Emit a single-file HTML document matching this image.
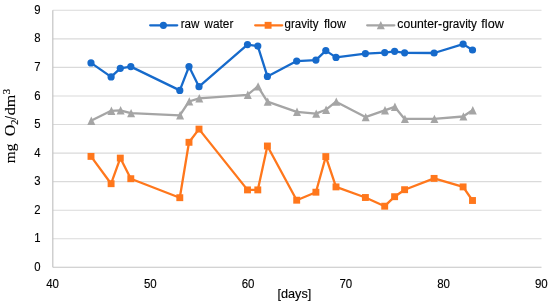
<!DOCTYPE html>
<html><head><meta charset="utf-8"><title>chart</title>
<style>html,body{margin:0;padding:0;background:#fff}svg{display:block}text{font-family:"Liberation Sans",sans-serif;fill:#000;stroke:#000;stroke-width:0.12px}</style></head><body>
<svg width="550" height="304" viewBox="0 0 550 304">
<rect width="550" height="304" fill="#fff"/>
<line x1="52.8" y1="267.30" x2="541.5" y2="267.30" stroke="#c4c4c4" stroke-width="1.1"/>
<line x1="52.8" y1="238.74" x2="541.5" y2="238.74" stroke="#dadada" stroke-width="1.1"/>
<line x1="52.8" y1="210.19" x2="541.5" y2="210.19" stroke="#dadada" stroke-width="1.1"/>
<line x1="52.8" y1="181.63" x2="541.5" y2="181.63" stroke="#dadada" stroke-width="1.1"/>
<line x1="52.8" y1="153.08" x2="541.5" y2="153.08" stroke="#dadada" stroke-width="1.1"/>
<line x1="52.8" y1="124.52" x2="541.5" y2="124.52" stroke="#dadada" stroke-width="1.1"/>
<line x1="52.8" y1="95.96" x2="541.5" y2="95.96" stroke="#dadada" stroke-width="1.1"/>
<line x1="52.8" y1="67.41" x2="541.5" y2="67.41" stroke="#dadada" stroke-width="1.1"/>
<line x1="52.8" y1="38.85" x2="541.5" y2="38.85" stroke="#dadada" stroke-width="1.1"/>
<line x1="52.8" y1="10.30" x2="541.5" y2="10.30" stroke="#dadada" stroke-width="1.1"/>
<line x1="52.8" y1="10.30" x2="52.8" y2="267.30" stroke="#c4c4c4" stroke-width="1.2"/>
<text x="37.5" y="270.90" font-size="11.9" text-anchor="middle" textLength="6.3" lengthAdjust="spacingAndGlyphs" stroke-width="0.2">0</text>
<text x="37.5" y="242.34" font-size="11.9" text-anchor="middle" textLength="6.3" lengthAdjust="spacingAndGlyphs" stroke-width="0.2">1</text>
<text x="37.5" y="213.79" font-size="11.9" text-anchor="middle" textLength="6.3" lengthAdjust="spacingAndGlyphs" stroke-width="0.2">2</text>
<text x="37.5" y="185.23" font-size="11.9" text-anchor="middle" textLength="6.3" lengthAdjust="spacingAndGlyphs" stroke-width="0.2">3</text>
<text x="37.5" y="156.68" font-size="11.9" text-anchor="middle" textLength="6.3" lengthAdjust="spacingAndGlyphs" stroke-width="0.2">4</text>
<text x="37.5" y="128.12" font-size="11.9" text-anchor="middle" textLength="6.3" lengthAdjust="spacingAndGlyphs" stroke-width="0.2">5</text>
<text x="37.5" y="99.56" font-size="11.9" text-anchor="middle" textLength="6.3" lengthAdjust="spacingAndGlyphs" stroke-width="0.2">6</text>
<text x="37.5" y="71.01" font-size="11.9" text-anchor="middle" textLength="6.3" lengthAdjust="spacingAndGlyphs" stroke-width="0.2">7</text>
<text x="37.5" y="42.45" font-size="11.9" text-anchor="middle" textLength="6.3" lengthAdjust="spacingAndGlyphs" stroke-width="0.2">8</text>
<text x="37.5" y="13.90" font-size="11.9" text-anchor="middle" textLength="6.3" lengthAdjust="spacingAndGlyphs" stroke-width="0.2">9</text>
<text x="52.60" y="287.7" font-size="12.1" text-anchor="middle" textLength="12.8" lengthAdjust="spacingAndGlyphs" stroke-width="0.2">40</text>
<text x="150.34" y="287.7" font-size="12.1" text-anchor="middle" textLength="12.8" lengthAdjust="spacingAndGlyphs" stroke-width="0.2">50</text>
<text x="248.08" y="287.7" font-size="12.1" text-anchor="middle" textLength="12.8" lengthAdjust="spacingAndGlyphs" stroke-width="0.2">60</text>
<text x="345.82" y="287.7" font-size="12.1" text-anchor="middle" textLength="12.8" lengthAdjust="spacingAndGlyphs" stroke-width="0.2">70</text>
<text x="443.56" y="287.7" font-size="12.1" text-anchor="middle" textLength="12.8" lengthAdjust="spacingAndGlyphs" stroke-width="0.2">80</text>
<text x="541.30" y="287.7" font-size="12.1" text-anchor="middle" textLength="12.8" lengthAdjust="spacingAndGlyphs" stroke-width="0.2">90</text>
<text x="277.4" y="297.5" font-size="13" textLength="33.9" lengthAdjust="spacingAndGlyphs">[days]</text>
<text transform="translate(14.80,163.32) rotate(-90)" font-size="14" style="font-family:'Liberation Serif',serif" textLength="19.63" lengthAdjust="spacingAndGlyphs" stroke="none">mg</text>
<text transform="translate(14.80,136.21) rotate(-90)" font-size="14" style="font-family:'Liberation Serif',serif" textLength="11.63" lengthAdjust="spacingAndGlyphs" stroke="none">O</text>
<text transform="translate(17.80,124.96) rotate(-90)" font-size="10.5" style="font-family:'Liberation Serif',serif" textLength="5.39" lengthAdjust="spacingAndGlyphs" stroke="none">2</text>
<text transform="translate(16.30,119.72) rotate(-90)" font-size="17.6" style="font-family:'Liberation Serif',serif" textLength="3.77" lengthAdjust="spacingAndGlyphs" stroke="none">/</text>
<text transform="translate(14.80,115.17) rotate(-90)" font-size="14" style="font-family:'Liberation Serif',serif" textLength="20.55" lengthAdjust="spacingAndGlyphs" stroke="none">dm</text>
<text transform="translate(9.70,94.57) rotate(-90)" font-size="10.5" style="font-family:'Liberation Serif',serif" textLength="5.75" lengthAdjust="spacingAndGlyphs" stroke="none">3</text>
<polyline points="91.00,62.90 111.10,76.90 120.30,68.30 130.80,66.60 179.80,90.40 189.00,66.60 199.00,86.70 247.50,44.55 257.80,46.06 267.40,76.40 296.70,61.10 315.90,60.10 325.80,50.60 336.00,57.40 365.40,53.60 384.70,52.60 394.60,51.30 404.60,52.80 434.10,53.00 463.10,44.10 472.50,50.00" fill="none" stroke="#166acb" stroke-width="2.3" stroke-linejoin="round" stroke-linecap="round"/>
<circle cx="91.00" cy="62.90" r="3.6" fill="#166acb"/>
<circle cx="111.10" cy="76.90" r="3.6" fill="#166acb"/>
<circle cx="120.30" cy="68.30" r="3.6" fill="#166acb"/>
<circle cx="130.80" cy="66.60" r="3.6" fill="#166acb"/>
<circle cx="179.80" cy="90.40" r="3.6" fill="#166acb"/>
<circle cx="189.00" cy="66.60" r="3.6" fill="#166acb"/>
<circle cx="199.00" cy="86.70" r="3.6" fill="#166acb"/>
<circle cx="247.50" cy="44.55" r="3.6" fill="#166acb"/>
<circle cx="257.80" cy="46.06" r="3.6" fill="#166acb"/>
<circle cx="267.40" cy="76.40" r="3.6" fill="#166acb"/>
<circle cx="296.70" cy="61.10" r="3.6" fill="#166acb"/>
<circle cx="315.90" cy="60.10" r="3.6" fill="#166acb"/>
<circle cx="325.80" cy="50.60" r="3.6" fill="#166acb"/>
<circle cx="336.00" cy="57.40" r="3.6" fill="#166acb"/>
<circle cx="365.40" cy="53.60" r="3.6" fill="#166acb"/>
<circle cx="384.70" cy="52.60" r="3.6" fill="#166acb"/>
<circle cx="394.60" cy="51.30" r="3.6" fill="#166acb"/>
<circle cx="404.60" cy="52.80" r="3.6" fill="#166acb"/>
<circle cx="434.10" cy="53.00" r="3.6" fill="#166acb"/>
<circle cx="463.10" cy="44.10" r="3.6" fill="#166acb"/>
<circle cx="472.50" cy="50.00" r="3.6" fill="#166acb"/>
<polyline points="91.00,156.40 111.10,183.70 120.30,158.10 130.80,178.70 179.80,197.70 189.00,142.30 199.00,129.10 247.50,189.90 257.80,189.90 267.40,146.00 296.70,200.20 315.90,192.20 325.80,156.60 336.00,186.90 365.40,197.50 384.70,206.20 394.60,196.70 404.60,189.70 434.10,178.40 463.10,186.90 472.50,200.50" fill="none" stroke="#ff771c" stroke-width="2.3" stroke-linejoin="round" stroke-linecap="round"/>
<rect x="87.55" y="152.95" width="6.9" height="6.9" fill="#ff771c"/>
<rect x="107.65" y="180.25" width="6.9" height="6.9" fill="#ff771c"/>
<rect x="116.85" y="154.65" width="6.9" height="6.9" fill="#ff771c"/>
<rect x="127.35" y="175.25" width="6.9" height="6.9" fill="#ff771c"/>
<rect x="176.35" y="194.25" width="6.9" height="6.9" fill="#ff771c"/>
<rect x="185.55" y="138.85" width="6.9" height="6.9" fill="#ff771c"/>
<rect x="195.55" y="125.65" width="6.9" height="6.9" fill="#ff771c"/>
<rect x="244.05" y="186.45" width="6.9" height="6.9" fill="#ff771c"/>
<rect x="254.35" y="186.45" width="6.9" height="6.9" fill="#ff771c"/>
<rect x="263.95" y="142.55" width="6.9" height="6.9" fill="#ff771c"/>
<rect x="293.25" y="196.75" width="6.9" height="6.9" fill="#ff771c"/>
<rect x="312.45" y="188.75" width="6.9" height="6.9" fill="#ff771c"/>
<rect x="322.35" y="153.15" width="6.9" height="6.9" fill="#ff771c"/>
<rect x="332.55" y="183.45" width="6.9" height="6.9" fill="#ff771c"/>
<rect x="361.95" y="194.05" width="6.9" height="6.9" fill="#ff771c"/>
<rect x="381.25" y="202.75" width="6.9" height="6.9" fill="#ff771c"/>
<rect x="391.15" y="193.25" width="6.9" height="6.9" fill="#ff771c"/>
<rect x="401.15" y="186.25" width="6.9" height="6.9" fill="#ff771c"/>
<rect x="430.65" y="174.95" width="6.9" height="6.9" fill="#ff771c"/>
<rect x="459.65" y="183.45" width="6.9" height="6.9" fill="#ff771c"/>
<rect x="469.05" y="197.05" width="6.9" height="6.9" fill="#ff771c"/>
<polyline points="91.00,120.80 111.10,110.80 120.30,110.30 130.80,113.10 179.80,115.30 189.00,101.50 199.00,98.30 247.50,94.80 257.80,86.40 267.40,101.60 296.70,111.80 315.90,113.60 325.80,109.80 336.00,101.70 365.40,117.10 384.70,110.30 394.60,106.80 404.60,118.90 434.10,118.90 463.10,116.50 472.50,110.30" fill="none" stroke="#a5a5a5" stroke-width="2.3" stroke-linejoin="round" stroke-linecap="round"/>
<path d="M91.30 116.60 L95.30 124.90 L87.30 124.90 Z" fill="#a5a5a5"/>
<path d="M111.40 106.60 L115.40 114.90 L107.40 114.90 Z" fill="#a5a5a5"/>
<path d="M120.60 106.10 L124.60 114.40 L116.60 114.40 Z" fill="#a5a5a5"/>
<path d="M131.10 108.90 L135.10 117.20 L127.10 117.20 Z" fill="#a5a5a5"/>
<path d="M180.10 111.10 L184.10 119.40 L176.10 119.40 Z" fill="#a5a5a5"/>
<path d="M189.30 97.30 L193.30 105.60 L185.30 105.60 Z" fill="#a5a5a5"/>
<path d="M199.30 94.10 L203.30 102.40 L195.30 102.40 Z" fill="#a5a5a5"/>
<path d="M247.80 90.60 L251.80 98.90 L243.80 98.90 Z" fill="#a5a5a5"/>
<path d="M258.10 82.20 L262.10 90.50 L254.10 90.50 Z" fill="#a5a5a5"/>
<path d="M267.70 97.40 L271.70 105.70 L263.70 105.70 Z" fill="#a5a5a5"/>
<path d="M297.00 107.60 L301.00 115.90 L293.00 115.90 Z" fill="#a5a5a5"/>
<path d="M316.20 109.40 L320.20 117.70 L312.20 117.70 Z" fill="#a5a5a5"/>
<path d="M326.10 105.60 L330.10 113.90 L322.10 113.90 Z" fill="#a5a5a5"/>
<path d="M336.30 97.50 L340.30 105.80 L332.30 105.80 Z" fill="#a5a5a5"/>
<path d="M365.70 112.90 L369.70 121.20 L361.70 121.20 Z" fill="#a5a5a5"/>
<path d="M385.00 106.10 L389.00 114.40 L381.00 114.40 Z" fill="#a5a5a5"/>
<path d="M394.90 102.60 L398.90 110.90 L390.90 110.90 Z" fill="#a5a5a5"/>
<path d="M404.90 114.70 L408.90 123.00 L400.90 123.00 Z" fill="#a5a5a5"/>
<path d="M434.40 114.70 L438.40 123.00 L430.40 123.00 Z" fill="#a5a5a5"/>
<path d="M463.40 112.30 L467.40 120.60 L459.40 120.60 Z" fill="#a5a5a5"/>
<path d="M472.80 106.10 L476.80 114.40 L468.80 114.40 Z" fill="#a5a5a5"/>
<line x1="150.2" y1="25.3" x2="177.2" y2="25.3" stroke="#166acb" stroke-width="2.3" stroke-linecap="round"/><circle cx="163.40" cy="25.30" r="3.6" fill="#166acb"/>
<line x1="255.2" y1="25.3" x2="282.2" y2="25.3" stroke="#ff771c" stroke-width="2.3" stroke-linecap="round"/><rect x="264.65" y="21.85" width="6.9" height="6.9" fill="#ff771c"/>
<line x1="367.2" y1="25.3" x2="394.3" y2="25.3" stroke="#a5a5a5" stroke-width="2.3" stroke-linecap="round"/><path d="M380.80 21.00 L384.80 29.30 L376.80 29.30 Z" fill="#a5a5a5"/>
<text x="180.63" y="28.4" font-size="12" textLength="18.72" lengthAdjust="spacingAndGlyphs">raw</text>
<text x="204.36" y="28.4" font-size="12" textLength="29.07" lengthAdjust="spacingAndGlyphs">water</text>
<text x="284.61" y="28.4" font-size="12" textLength="33.89" lengthAdjust="spacingAndGlyphs">gravity</text>
<text x="323.90" y="28.4" font-size="12" textLength="21.95" lengthAdjust="spacingAndGlyphs">flow</text>
<text x="397.34" y="28.4" font-size="12" textLength="44.88" lengthAdjust="spacingAndGlyphs">counter-</text>
<text x="442.45" y="28.4" font-size="12" textLength="34.45" lengthAdjust="spacingAndGlyphs">gravity</text>
<text x="481.33" y="28.4" font-size="12" textLength="22.43" lengthAdjust="spacingAndGlyphs">flow</text>
</svg></body></html>
